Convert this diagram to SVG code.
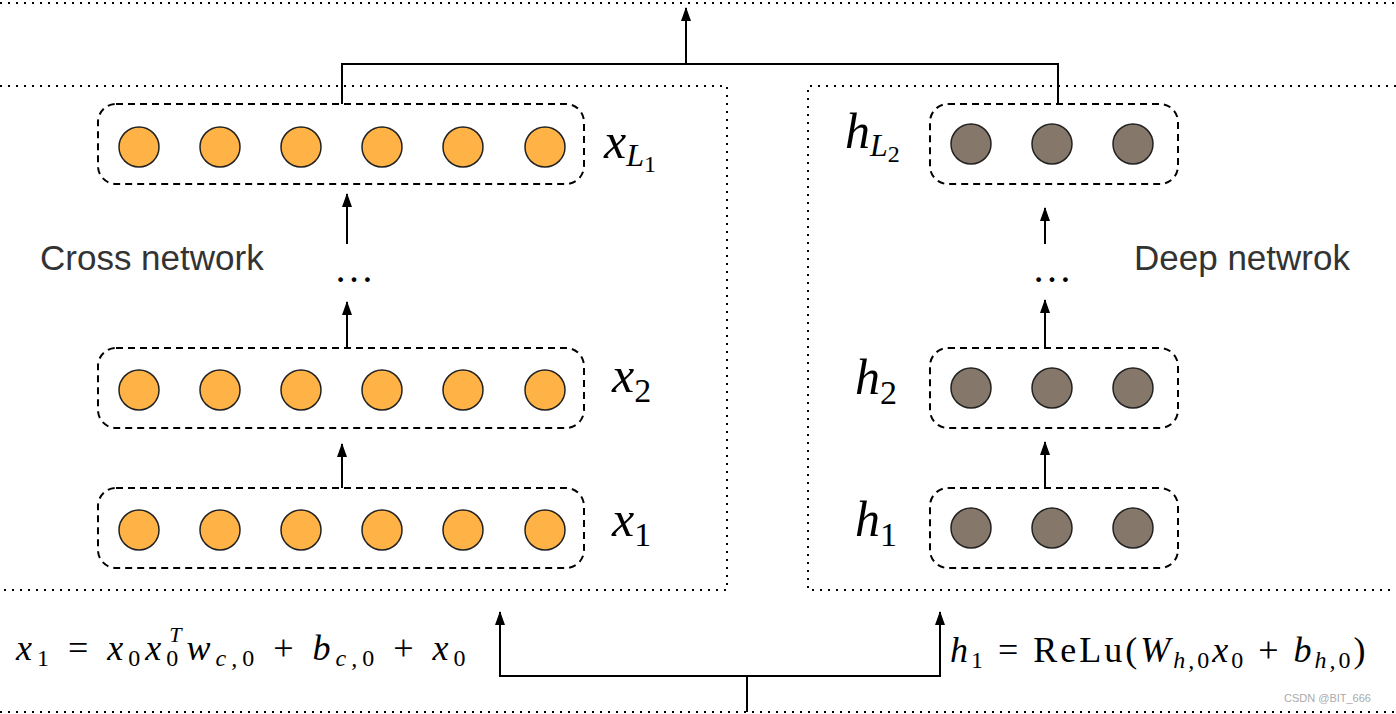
<svg xmlns="http://www.w3.org/2000/svg" width="1396" height="714" viewBox="0 0 1396 714">
<defs>
<marker id="ah" markerWidth="14" markerHeight="10" refX="13" refY="5" orient="auto" markerUnits="userSpaceOnUse" viewBox="0 0 14 10"><path d="M0,0 L14,5 L0,10 Z" fill="#000"/></marker>
<style>
.dot{fill:none;stroke:#000;stroke-width:2;stroke-dasharray:2 6}
.dash{fill:none;stroke:#000;stroke-width:2;stroke-dasharray:7 5}
.ln{fill:none;stroke:#000;stroke-width:2}
.o{fill:#FFB347;stroke:#222;stroke-width:1.5}
.g{fill:#85786B;stroke:#222;stroke-width:1.5}
.m{font-family:"Liberation Serif",serif;font-style:italic;fill:#000}
.r{font-family:"Liberation Serif",serif;fill:#000}
.s{font-family:"Liberation Sans",sans-serif;font-size:35px;fill:#333}
</style>
</defs>
<rect width="1396" height="714" fill="#fff"/>
<g id="frames">
<line class="dot" x1="0" y1="3" x2="1396" y2="3"/>
<line class="dot" x1="0" y1="712" x2="1396" y2="712"/>
<path class="dot" d="M0,86 H727 V590 H0"/>
<path class="dot" d="M1396,86 H808 V590 H1396"/>
</g>
<g id="connectors">
<line class="ln" x1="686" y1="64" x2="686" y2="8" marker-end="url(#ah)"/>
<path class="ln" d="M342,104 V64 H1058 V104"/>
<line class="ln" x1="342" y1="488" x2="342" y2="444" marker-end="url(#ah)"/>
<line class="ln" x1="347" y1="348" x2="347" y2="302" marker-end="url(#ah)"/>
<line class="ln" x1="347" y1="244" x2="347" y2="194" marker-end="url(#ah)"/>
<line class="ln" x1="1045" y1="488" x2="1045" y2="442" marker-end="url(#ah)"/>
<line class="ln" x1="1045" y1="348" x2="1045" y2="300" marker-end="url(#ah)"/>
<line class="ln" x1="1045" y1="244" x2="1045" y2="208" marker-end="url(#ah)"/>
<path class="ln" d="M747,712 V676 H500 V640"/>
<path class="ln" d="M747,676 H940 V640"/>
<line class="ln" x1="500" y1="640" x2="500" y2="612" marker-end="url(#ah)"/>
<line class="ln" x1="940" y1="640" x2="940" y2="612" marker-end="url(#ah)"/>
</g>
<g id="xL1">
<rect class="dash" x="98" y="104" width="486" height="80" rx="18"/>
<circle class="o" cx="139" cy="147" r="20"/><circle class="o" cx="220" cy="147" r="20"/><circle class="o" cx="301" cy="147" r="20"/><circle class="o" cx="382" cy="147" r="20"/><circle class="o" cx="463" cy="147" r="20"/><circle class="o" cx="545" cy="147" r="20"/>
<text class="m" x="604" y="158" font-size="50">x<tspan font-size="32" dy="8">L</tspan><tspan class="r" font-style="normal" font-size="24" dy="6">1</tspan></text>
</g>
<g id="x2">
<rect class="dash" x="98" y="348" width="486" height="80" rx="18"/>
<circle class="o" cx="139" cy="390" r="20"/><circle class="o" cx="220" cy="390" r="20"/><circle class="o" cx="301" cy="390" r="20"/><circle class="o" cx="382" cy="390" r="20"/><circle class="o" cx="463" cy="390" r="20"/><circle class="o" cx="545" cy="390" r="20"/>
<text class="m" x="612" y="392" font-size="50">x<tspan font-style="normal" font-size="34" dy="10">2</tspan></text>
</g>
<g id="x1">
<rect class="dash" x="98" y="488" width="486" height="80" rx="18"/>
<circle class="o" cx="139" cy="530" r="20"/><circle class="o" cx="220" cy="530" r="20"/><circle class="o" cx="301" cy="530" r="20"/><circle class="o" cx="382" cy="530" r="20"/><circle class="o" cx="463" cy="530" r="20"/><circle class="o" cx="545" cy="530" r="20"/>
<text class="m" x="612" y="536" font-size="50">x<tspan font-style="normal" font-size="34" dy="10">1</tspan></text>
</g>
<g id="hL2">
<rect class="dash" x="930" y="104" width="248" height="80" rx="18"/>
<circle class="g" cx="971" cy="144" r="20"/><circle class="g" cx="1052" cy="144" r="20"/><circle class="g" cx="1133" cy="144" r="20"/>
<text class="m" x="845" y="148" font-size="50">h<tspan font-size="32" dy="8">L</tspan><tspan font-style="normal" font-size="24" dy="6">2</tspan></text>
</g>
<g id="h2">
<rect class="dash" x="930" y="348" width="248" height="80" rx="18"/>
<circle class="g" cx="971" cy="388" r="20"/><circle class="g" cx="1052" cy="388" r="20"/><circle class="g" cx="1133" cy="388" r="20"/>
<text class="m" x="855" y="394" font-size="50">h<tspan font-style="normal" font-size="34" dy="10">2</tspan></text>
</g>
<g id="h1">
<rect class="dash" x="930" y="488" width="248" height="80" rx="18"/>
<circle class="g" cx="971" cy="528" r="20"/><circle class="g" cx="1052" cy="528" r="20"/><circle class="g" cx="1133" cy="528" r="20"/>
<text class="m" x="855" y="536" font-size="50">h<tspan font-style="normal" font-size="34" dy="10">1</tspan></text>
</g>
<g id="labels">
<text class="r" x="334" y="282" font-size="40">…</text>
<text class="r" x="1032" y="282" font-size="40">…</text>
<text class="s" x="40" y="270">Cross network</text>
<text class="s" x="1134" y="270">Deep netwrok</text>
<text class="m" x="16" y="660" font-size="36" letter-spacing="5">x<tspan font-style="normal" font-size="24" dy="6">1</tspan><tspan font-style="normal" dy="-6"> = </tspan>x<tspan font-style="normal" font-size="24" dy="6">0</tspan><tspan dy="-6">x</tspan><tspan font-style="normal" font-size="24" dy="6">0</tspan><tspan font-size="22" dx="-14" dy="-24">T</tspan><tspan dy="18">w</tspan><tspan font-size="24" dy="6">c,</tspan><tspan font-style="normal" font-size="24">0</tspan><tspan font-style="normal" dy="-6"> + </tspan>b<tspan font-size="24" dy="6">c,</tspan><tspan font-style="normal" font-size="24">0</tspan><tspan font-style="normal" dy="-6"> + </tspan>x<tspan font-style="normal" font-size="24" dy="6">0</tspan></text>
<text class="m" x="950" y="662" font-size="36" letter-spacing="3">h<tspan font-style="normal" font-size="24" dy="6">1</tspan><tspan font-style="normal" dy="-6"> = ReLu(</tspan>W<tspan font-size="24" dy="6">h,</tspan><tspan font-style="normal" font-size="24">0</tspan><tspan dy="-6">x</tspan><tspan font-style="normal" font-size="24" dy="6">0</tspan><tspan font-style="normal" dy="-6"> + </tspan>b<tspan font-size="24" dy="6">h,</tspan><tspan font-style="normal" font-size="24">0</tspan><tspan font-style="normal" dy="-6">)</tspan></text>
<text x="1284" y="702" font-family="Liberation Sans,sans-serif" font-size="11" fill="#aaa">CSDN @BIT_666</text>
</g>
</svg>
